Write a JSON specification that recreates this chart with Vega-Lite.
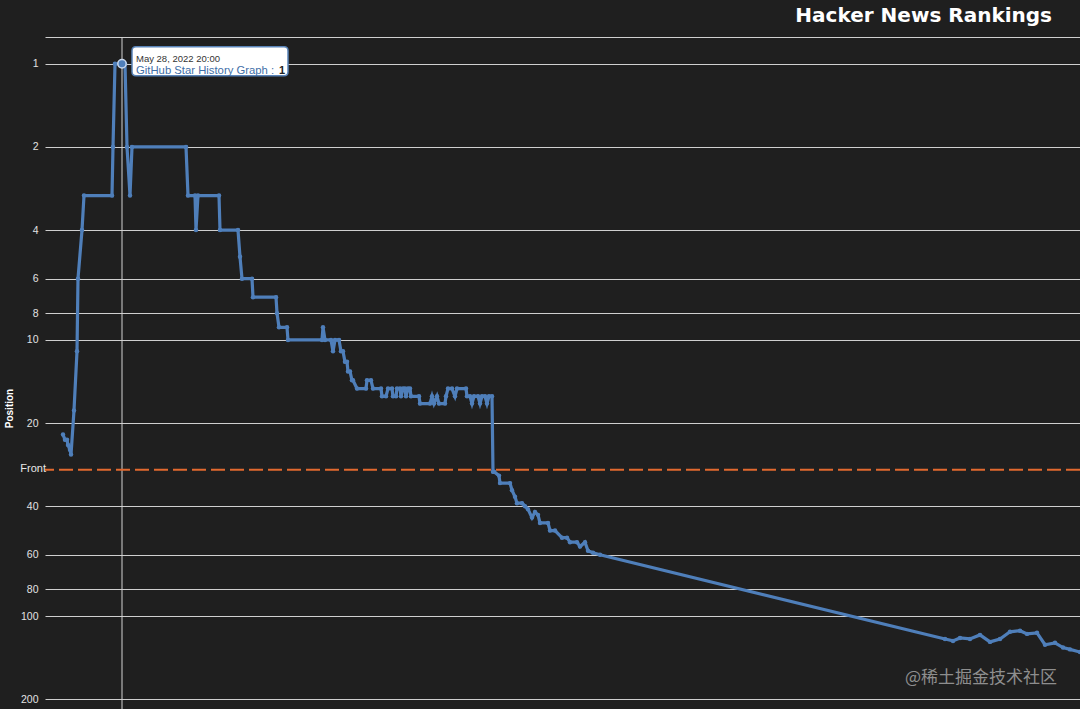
{
  "$schema": "https://vega.github.io/schema/vega-lite/v6.json",
  "width": 1035,
  "height": 672,
  "autosize": {"type": "none"},
  "padding": {"left": 45, "top": 37, "right": 0, "bottom": 0},
  "background": "#1f1f1f",
  "view": {"stroke": null},
  "title": {
    "text": "Hacker News Rankings",
    "anchor": "end",
    "frame": "group",
    "orient": "top",
    "baseline": "alphabetic",
    "offset": 16,
    "dy": 21,
    "dx": -28,
    "font": "DejaVu Sans",
    "fontSize": 20,
    "fontWeight": "bold",
    "color": "#ffffff"
  },
  "datasets": {
    "rank": [
      {"t": "2022-05-28T17:03:00", "rank": 22},
      {"t": "2022-05-28T17:09:00", "rank": 23},
      {"t": "2022-05-28T17:15:00", "rank": 23},
      {"t": "2022-05-28T17:18:00", "rank": 24},
      {"t": "2022-05-28T17:24:00", "rank": 25},
      {"t": "2022-05-28T17:27:00", "rank": 26},
      {"t": "2022-05-28T17:36:00", "rank": 18},
      {"t": "2022-05-28T17:45:00", "rank": 11},
      {"t": "2022-05-28T17:48:00", "rank": 6},
      {"t": "2022-05-28T18:00:00", "rank": 4},
      {"t": "2022-05-28T18:06:00", "rank": 3},
      {"t": "2022-05-28T19:30:00", "rank": 3},
      {"t": "2022-05-28T19:33:00", "rank": 2},
      {"t": "2022-05-28T19:39:00", "rank": 1},
      {"t": "2022-05-28T20:00:00", "rank": 1},
      {"t": "2022-05-28T20:09:00", "rank": 1},
      {"t": "2022-05-28T20:15:00", "rank": 2},
      {"t": "2022-05-28T20:24:00", "rank": 3},
      {"t": "2022-05-28T20:30:00", "rank": 2},
      {"t": "2022-05-28T23:12:00", "rank": 2},
      {"t": "2022-05-28T23:18:00", "rank": 3},
      {"t": "2022-05-28T23:39:00", "rank": 3},
      {"t": "2022-05-28T23:42:00", "rank": 4},
      {"t": "2022-05-28T23:48:00", "rank": 3},
      {"t": "2022-05-29T00:51:00", "rank": 3},
      {"t": "2022-05-29T00:54:00", "rank": 4},
      {"t": "2022-05-29T01:48:00", "rank": 4},
      {"t": "2022-05-29T01:54:00", "rank": 5},
      {"t": "2022-05-29T02:00:00", "rank": 6},
      {"t": "2022-05-29T02:30:00", "rank": 6},
      {"t": "2022-05-29T02:33:00", "rank": 7},
      {"t": "2022-05-29T03:42:00", "rank": 7},
      {"t": "2022-05-29T03:45:00", "rank": 8},
      {"t": "2022-05-29T03:51:00", "rank": 9},
      {"t": "2022-05-29T04:15:00", "rank": 9},
      {"t": "2022-05-29T04:18:00", "rank": 10},
      {"t": "2022-05-29T06:00:00", "rank": 10},
      {"t": "2022-05-29T06:03:00", "rank": 9},
      {"t": "2022-05-29T06:09:00", "rank": 10},
      {"t": "2022-05-29T06:27:00", "rank": 10},
      {"t": "2022-05-29T06:33:00", "rank": 11},
      {"t": "2022-05-29T06:39:00", "rank": 10},
      {"t": "2022-05-29T06:51:00", "rank": 10},
      {"t": "2022-05-29T06:57:00", "rank": 11},
      {"t": "2022-05-29T07:03:00", "rank": 11},
      {"t": "2022-05-29T07:09:00", "rank": 12},
      {"t": "2022-05-29T07:15:00", "rank": 12},
      {"t": "2022-05-29T07:18:00", "rank": 13},
      {"t": "2022-05-29T07:24:00", "rank": 13},
      {"t": "2022-05-29T07:30:00", "rank": 14},
      {"t": "2022-05-29T07:33:00", "rank": 14},
      {"t": "2022-05-29T07:45:00", "rank": 15},
      {"t": "2022-05-29T08:12:00", "rank": 15},
      {"t": "2022-05-29T08:15:00", "rank": 14},
      {"t": "2022-05-29T08:27:00", "rank": 14},
      {"t": "2022-05-29T08:33:00", "rank": 15},
      {"t": "2022-05-29T08:57:00", "rank": 15},
      {"t": "2022-05-29T09:00:00", "rank": 16},
      {"t": "2022-05-29T09:12:00", "rank": 16},
      {"t": "2022-05-29T09:18:00", "rank": 15},
      {"t": "2022-05-29T09:30:00", "rank": 15},
      {"t": "2022-05-29T09:33:00", "rank": 16},
      {"t": "2022-05-29T09:42:00", "rank": 16},
      {"t": "2022-05-29T09:45:00", "rank": 15},
      {"t": "2022-05-29T09:54:00", "rank": 15},
      {"t": "2022-05-29T09:57:00", "rank": 16},
      {"t": "2022-05-29T10:03:00", "rank": 15},
      {"t": "2022-05-29T10:09:00", "rank": 15},
      {"t": "2022-05-29T10:12:00", "rank": 16},
      {"t": "2022-05-29T10:18:00", "rank": 15},
      {"t": "2022-05-29T10:24:00", "rank": 15},
      {"t": "2022-05-29T10:27:00", "rank": 16},
      {"t": "2022-05-29T10:51:00", "rank": 16},
      {"t": "2022-05-29T10:54:00", "rank": 17},
      {"t": "2022-05-29T11:24:00", "rank": 17},
      {"t": "2022-05-29T11:30:00", "rank": 16},
      {"t": "2022-05-29T11:36:00", "rank": 17},
      {"t": "2022-05-29T11:45:00", "rank": 16},
      {"t": "2022-05-29T11:51:00", "rank": 17},
      {"t": "2022-05-29T12:09:00", "rank": 17},
      {"t": "2022-05-29T12:12:00", "rank": 16},
      {"t": "2022-05-29T12:18:00", "rank": 15},
      {"t": "2022-05-29T12:30:00", "rank": 15},
      {"t": "2022-05-29T12:39:00", "rank": 16},
      {"t": "2022-05-29T12:45:00", "rank": 15},
      {"t": "2022-05-29T13:12:00", "rank": 15},
      {"t": "2022-05-29T13:15:00", "rank": 16},
      {"t": "2022-05-29T13:24:00", "rank": 16},
      {"t": "2022-05-29T13:30:00", "rank": 17},
      {"t": "2022-05-29T13:36:00", "rank": 16},
      {"t": "2022-05-29T13:48:00", "rank": 16},
      {"t": "2022-05-29T13:54:00", "rank": 17},
      {"t": "2022-05-29T14:00:00", "rank": 16},
      {"t": "2022-05-29T14:09:00", "rank": 16},
      {"t": "2022-05-29T14:15:00", "rank": 17},
      {"t": "2022-05-29T14:21:00", "rank": 16},
      {"t": "2022-05-29T14:30:00", "rank": 16},
      {"t": "2022-05-29T14:33:00", "rank": 30},
      {"t": "2022-05-29T14:36:00", "rank": 30},
      {"t": "2022-05-29T14:51:00", "rank": 31},
      {"t": "2022-05-29T14:54:00", "rank": 33},
      {"t": "2022-05-29T15:24:00", "rank": 33},
      {"t": "2022-05-29T15:30:00", "rank": 35},
      {"t": "2022-05-29T15:39:00", "rank": 37},
      {"t": "2022-05-29T15:45:00", "rank": 39},
      {"t": "2022-05-29T16:00:00", "rank": 39},
      {"t": "2022-05-29T16:09:00", "rank": 40},
      {"t": "2022-05-29T16:18:00", "rank": 41},
      {"t": "2022-05-29T16:30:00", "rank": 44},
      {"t": "2022-05-29T16:39:00", "rank": 42},
      {"t": "2022-05-29T16:48:00", "rank": 43},
      {"t": "2022-05-29T16:54:00", "rank": 46},
      {"t": "2022-05-29T17:18:00", "rank": 46},
      {"t": "2022-05-29T17:24:00", "rank": 49},
      {"t": "2022-05-29T17:39:00", "rank": 49},
      {"t": "2022-05-29T18:00:00", "rank": 52},
      {"t": "2022-05-29T18:15:00", "rank": 52},
      {"t": "2022-05-29T18:24:00", "rank": 54},
      {"t": "2022-05-29T18:45:00", "rank": 54},
      {"t": "2022-05-29T18:54:00", "rank": 56},
      {"t": "2022-05-29T19:09:00", "rank": 54},
      {"t": "2022-05-29T19:18:00", "rank": 58},
      {"t": "2022-05-29T19:33:00", "rank": 59},
      {"t": "2022-05-29T19:54:00", "rank": 60},
      {"t": "2022-05-30T13:09:00", "rank": 121},
      {"t": "2022-05-30T13:33:00", "rank": 123},
      {"t": "2022-05-30T13:54:00", "rank": 120},
      {"t": "2022-05-30T14:24:00", "rank": 121},
      {"t": "2022-05-30T14:54:00", "rank": 117},
      {"t": "2022-05-30T15:24:00", "rank": 124},
      {"t": "2022-05-30T15:54:00", "rank": 121},
      {"t": "2022-05-30T16:24:00", "rank": 114},
      {"t": "2022-05-30T16:54:00", "rank": 113},
      {"t": "2022-05-30T17:15:00", "rank": 116},
      {"t": "2022-05-30T17:45:00", "rank": 115},
      {"t": "2022-05-30T18:09:00", "rank": 127},
      {"t": "2022-05-30T18:39:00", "rank": 125},
      {"t": "2022-05-30T19:03:00", "rank": 130},
      {"t": "2022-05-30T19:24:00", "rank": 132},
      {"t": "2022-05-30T19:54:00", "rank": 135},
      {"t": "2022-05-30T20:24:00", "rank": 138}
    ],
    "hover": [
      {"t": "2022-05-28T20:00:00", "rank": 1, "when": "May 28, 2022 20:00", "series": "GitHub Star History Graph :", "value": "1"}
    ],
    "front": [
      {"t": "2022-05-28T16:09:00", "rank": 29.5, "label": "Front"}
    ],
    "mark": [
      {"t": "2022-05-30T18:45:00", "rank": 168, "label": "@稀土掘金技术社区"}
    ]
  },
  "layer": [
    {
      "data": {"name": "hover"},
      "mark": {"type": "rule", "color": "#d4d4d4", "strokeWidth": 1},
      "encoding": {
        "x": {"field": "t", "type": "temporal", "axis": null,
              "scale": {"domain": [{"year": 2022, "month": "may", "date": 28, "hours": 16, "minutes": 9}, {"year": 2022, "month": "may", "date": 30, "hours": 19, "minutes": 54}]}}
      }
    },
    {
      "data": {"name": "front"},
      "mark": {"type": "rule", "color": "#e2692f", "strokeWidth": 2, "strokeDash": [14, 5]},
      "encoding": {
        "y": {"field": "rank", "type": "quantitative",
              "scale": {"type": "log", "domain": [0.8, 217], "reverse": true, "nice": false}}
      }
    },
    {
      "data": {"name": "front"},
      "mark": {"type": "text", "align": "right", "baseline": "alphabetic", "dx": 1, "dy": 2, "font": "Liberation Sans", "fontSize": 11, "color": "#e8e8e8"},
      "encoding": {
        "x": {"field": "t", "type": "temporal", "axis": null,
              "scale": {"domain": [{"year": 2022, "month": "may", "date": 28, "hours": 16, "minutes": 9}, {"year": 2022, "month": "may", "date": 30, "hours": 19, "minutes": 54}]}},
        "y": {"field": "rank", "type": "quantitative",
              "scale": {"type": "log", "domain": [0.8, 217], "reverse": true, "nice": false}},
        "text": {"field": "label"}
      }
    },
    {
      "data": {"name": "rank"},
      "mark": {"type": "line", "color": "#4f7fba", "strokeWidth": 3.2, "clip": true,
               "point": {"filled": true, "size": 20, "color": "#4f7fba"}},
      "encoding": {
        "x": {"field": "t", "type": "temporal", "axis": null,
              "scale": {"domain": [{"year": 2022, "month": "may", "date": 28, "hours": 16, "minutes": 9}, {"year": 2022, "month": "may", "date": 30, "hours": 19, "minutes": 54}]}},
        "y": {"field": "rank", "type": "quantitative",
              "scale": {"type": "log", "domain": [0.8, 217], "reverse": true, "nice": false},
              "axis": {
                "title": "Position",
                "values": [0.8, 1, 2, 4, 6, 8, 10, 20, 40, 60, 80, 100, 200],
                "labelExpr": "datum.value < 0.9 ? '' : format(datum.value, 'd')",
                "domain": false,
                "ticks": false,
                "grid": true,
                "gridColor": "#cfcfcf",
                "gridWidth": 1,
                "labelPadding": 7,
                "labelColor": "#e2e2e2",
                "labelFont": "Liberation Sans",
                "labelFontSize": 10.5,
                "titleFont": "Liberation Sans",
                "titleFontSize": 10,
                "titleFontWeight": "bold",
                "titleColor": "#ffffff",
                "titleX": -31,
                "titleY": 371
              }}
      }
    },
    {
      "data": {"name": "hover"},
      "mark": {"type": "point", "filled": true, "size": 70, "color": "#4f7fba", "stroke": "#c9d9ef", "strokeWidth": 1.5, "opacity": 1},
      "encoding": {
        "x": {"field": "t", "type": "temporal", "axis": null,
              "scale": {"domain": [{"year": 2022, "month": "may", "date": 28, "hours": 16, "minutes": 9}, {"year": 2022, "month": "may", "date": 30, "hours": 19, "minutes": 54}]}},
        "y": {"field": "rank", "type": "quantitative",
              "scale": {"type": "log", "domain": [0.8, 217], "reverse": true, "nice": false}}
      }
    },
    {
      "data": {"name": "hover"},
      "mark": {"type": "point", "filled": true, "size": 4, "fill": "#ffffff", "fillOpacity": 1, "opacity": 1, "stroke": "#5a84b8", "strokeWidth": 1.5,
               "shape": "M14,-17L162,-17Q166,-17,166,-13L166,8Q166,12,162,12L14,12Q10,12,10,8L10,-13Q10,-17,14,-17Z"},
      "encoding": {
        "x": {"field": "t", "type": "temporal", "axis": null,
              "scale": {"domain": [{"year": 2022, "month": "may", "date": 28, "hours": 16, "minutes": 9}, {"year": 2022, "month": "may", "date": 30, "hours": 19, "minutes": 54}]}},
        "y": {"field": "rank", "type": "quantitative",
              "scale": {"type": "log", "domain": [0.8, 217], "reverse": true, "nice": false}}
      }
    },
    {
      "data": {"name": "hover"},
      "mark": {"type": "text", "align": "left", "baseline": "alphabetic", "dx": 14, "dy": -2, "font": "Liberation Sans", "fontSize": 9.5, "color": "#333333"},
      "encoding": {
        "x": {"field": "t", "type": "temporal", "axis": null,
              "scale": {"domain": [{"year": 2022, "month": "may", "date": 28, "hours": 16, "minutes": 9}, {"year": 2022, "month": "may", "date": 30, "hours": 19, "minutes": 54}]}},
        "y": {"field": "rank", "type": "quantitative",
              "scale": {"type": "log", "domain": [0.8, 217], "reverse": true, "nice": false}},
        "text": {"field": "when"}
      }
    },
    {
      "data": {"name": "hover"},
      "mark": {"type": "text", "align": "left", "baseline": "alphabetic", "dx": 14, "dy": 10, "font": "Liberation Sans", "fontSize": 11.3, "color": "#3f6fa8"},
      "encoding": {
        "x": {"field": "t", "type": "temporal", "axis": null,
              "scale": {"domain": [{"year": 2022, "month": "may", "date": 28, "hours": 16, "minutes": 9}, {"year": 2022, "month": "may", "date": 30, "hours": 19, "minutes": 54}]}},
        "y": {"field": "rank", "type": "quantitative",
              "scale": {"type": "log", "domain": [0.8, 217], "reverse": true, "nice": false}},
        "text": {"field": "series"}
      }
    },
    {
      "data": {"name": "hover"},
      "mark": {"type": "text", "align": "left", "baseline": "alphabetic", "dx": 157, "dy": 10, "font": "Liberation Sans", "fontSize": 11, "fontWeight": "bold", "color": "#222222"},
      "encoding": {
        "x": {"field": "t", "type": "temporal", "axis": null,
              "scale": {"domain": [{"year": 2022, "month": "may", "date": 28, "hours": 16, "minutes": 9}, {"year": 2022, "month": "may", "date": 30, "hours": 19, "minutes": 54}]}},
        "y": {"field": "rank", "type": "quantitative",
              "scale": {"type": "log", "domain": [0.8, 217], "reverse": true, "nice": false}},
        "text": {"field": "value"}
      }
    },
    {
      "data": {"name": "mark"},
      "mark": {"type": "text", "align": "right", "baseline": "middle", "font": "Noto Sans CJK SC", "fontSize": 17, "color": "#b4b4b4", "opacity": 0.75},
      "encoding": {
        "x": {"field": "t", "type": "temporal", "axis": null,
              "scale": {"domain": [{"year": 2022, "month": "may", "date": 28, "hours": 16, "minutes": 9}, {"year": 2022, "month": "may", "date": 30, "hours": 19, "minutes": 54}]}},
        "y": {"field": "rank", "type": "quantitative",
              "scale": {"type": "log", "domain": [0.8, 217], "reverse": true, "nice": false}},
        "text": {"field": "label"}
      }
    }
  ]
}
